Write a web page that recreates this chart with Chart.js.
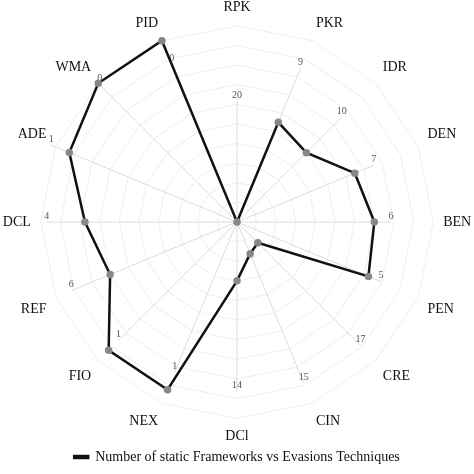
<!DOCTYPE html>
<html><head>
<script src="https://cdn.jsdelivr.net/npm/chart.js@4"></script>
<style>html,body{margin:0;background:#fff}#wrap{width:474px;height:474px}</style>
</head><body><div id="wrap"><canvas id="c"></canvas></div>
<script>
const categories = ['RPK','PKR','IDR','DEN','BEN','PEN','CRE','CIN','DCl','NEX','FIO','REF','DCL','ADE','WMA','PID'];
const values = [0, 11, 10, 13, 14, 14.5, 3, 3.5, 6, 18.5, 18.5, 14, 15.5, 18.5, 20, 20];
const spokeLabels = ['20','9','10','7','6','5','17','15','14','1','1','6','4','1','0','0'];
const spokeLengths = [12.3, 16.9, 15.1, 15.1, 15.7, 15.9, 17.8, 17.8, 17.3, 16.6, 17.1, 18.3, 19.4, 20.5, 19.8, 17.4];

const spokes = {
  id: 'spokes',
  beforeDatasetsDraw(chart) {
    const s = chart.scales.r, ctx = chart.ctx;
    ctx.save();
    ctx.strokeStyle = '#dcdcdc'; ctx.lineWidth = 1;
    ctx.fillStyle = '#555'; ctx.font = "10px 'Liberation Serif'";
    ctx.textAlign = 'center'; ctx.textBaseline = 'bottom';
    spokeLengths.forEach((len, i) => {
      const p = s.getPointPositionForValue(i, len);
      ctx.beginPath(); ctx.moveTo(s.xCenter, s.yCenter); ctx.lineTo(p.x, p.y); ctx.stroke();
      ctx.fillText(spokeLabels[i], p.x, p.y - 1);
    });
    ctx.restore();
  }
};

new Chart(document.getElementById('c'), {
  type: 'radar',
  data: {
    labels: categories,
    datasets: [{
      label: 'Number of static Frameworks vs Evasions Techniques',
      data: values,
      borderColor: '#111', borderWidth: 2.5, fill: false,
      pointRadius: 2.5, pointBackgroundColor: '#888', pointBorderColor: '#888'
    }]
  },
  options: {
    animation: false, responsive: true, maintainAspectRatio: false,
    layout: { padding: { top: 0, left: 2, right: 2 } },
    plugins: {
      legend: {
        position: 'bottom',
        labels: { font: { family: "'Liberation Serif'", size: 14 }, color: '#111', boxWidth: 14, boxHeight: 2, padding: 4 }
      },
      tooltip: { enabled: false }
    },
    scales: {
      r: {
        min: 0, max: 20,
        ticks: { display: false, stepSize: 2 },
        grid: { color: '#eeeeee' },
        angleLines: { display: false },
        pointLabels: { font: { family: "'Liberation Serif'", size: 14 }, color: '#111', padding: 10 }
      }
    }
  },
  plugins: [spokes]
});
</script></body></html>
